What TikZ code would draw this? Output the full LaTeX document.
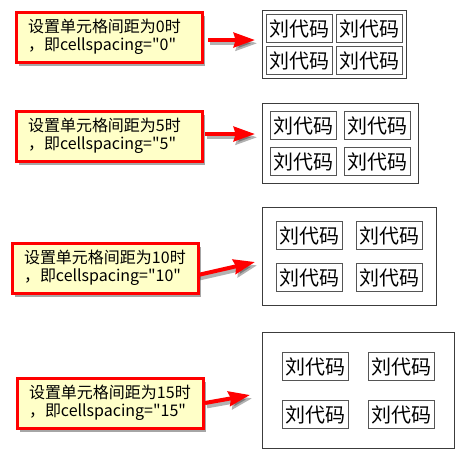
\documentclass[tikz,border=0pt]{standalone}
\usepackage{fontspec}
\usepackage{xcolor}
\usepackage{tikz}
\usetikzlibrary{arrows.meta}
\usetikzlibrary{shadows}

\newfontfamily\cjk{Noto Sans CJK SC}
\definecolor{notefill}{RGB}{255,255,200}
\definecolor{framegray}{RGB}{60,60,60}
\definecolor{cellgray}{RGB}{85,85,85}

\begin{document}
\begin{tikzpicture}[x=0.75pt, y=-0.75pt, semithick]
  \tikzstyle{note}=[draw=red, line width=2.25pt, fill=notefill, text=black,
    text width=121.5pt, inner xsep=9pt, minimum height=37.5pt, align=left,
    font=\cjk\fontsize{12}{13.5}\selectfont,
    drop shadow={shadow xshift=2.5pt, shadow yshift=-3pt, opacity=.35, fill=black}]
  \tikzstyle{tablebox}=[draw=framegray, line width=1pt, fill=white, anchor=north west, inner sep=0pt]
  \tikzstyle{cell}=[draw=cellgray, line width=.9pt, anchor=north west, inner sep=0pt,
    minimum width=49.5pt, minimum height=21pt, font=\cjk\fontsize{15}{15}\selectfont]
  \tikzstyle{redarrow}=[draw=red, line width=3pt, -{Stealth[length=16pt, width=11pt, inset=1.5pt]}]
  \tikzstyle{arrowshade}=[draw=black, opacity=.3, line width=3pt,
    -{Stealth[length=16pt, width=11pt, inset=1.5pt]},
    transform canvas={xshift=1.5pt, yshift=-2.5pt}]
  \useasboundingbox (0,0) rectangle (465,462);
  \fill[white] (0,0) rectangle (465,462);
\foreach \i/\n/\g/\ty/\cx/\cy/\tx/\txy/\hx/\hy in {
    1/0/4/10/109/37/208/40/255/40,
    2/5/8/103/109/136/205/134/255/134,
    3/10/14/207/105/268/198/275/255/262,
    4/15/20/332/110/403/205/403/250/395}{
    \node[note] (call\i) at (\cx,\cy) {设置单元格间距为{\n}时\\，即cellspacing="\n"};
    \node[tablebox, minimum width={(3*\g+132)*0.75pt}, minimum height={(3*\g+56)*0.75pt}]
      (tab\i) at (262,\ty) {};
    \foreach \row in {0,1}{
      \foreach \col in {0,1}{
        \node[cell] (cell\i\row\col) at ({262+\g+\col*(66+\g)},{\ty+\g+\row*(28+\g)}) {刘代码};
      }
    }
    \coordinate (tail\i) at (\tx,\txy);
    \coordinate (tip\i) at (\hx,\hy);
    \draw[arrowshade] (tail\i) -- (tip\i);
    \draw[redarrow] (tail\i) -- (tip\i);
  }
\end{tikzpicture}
\end{document}
